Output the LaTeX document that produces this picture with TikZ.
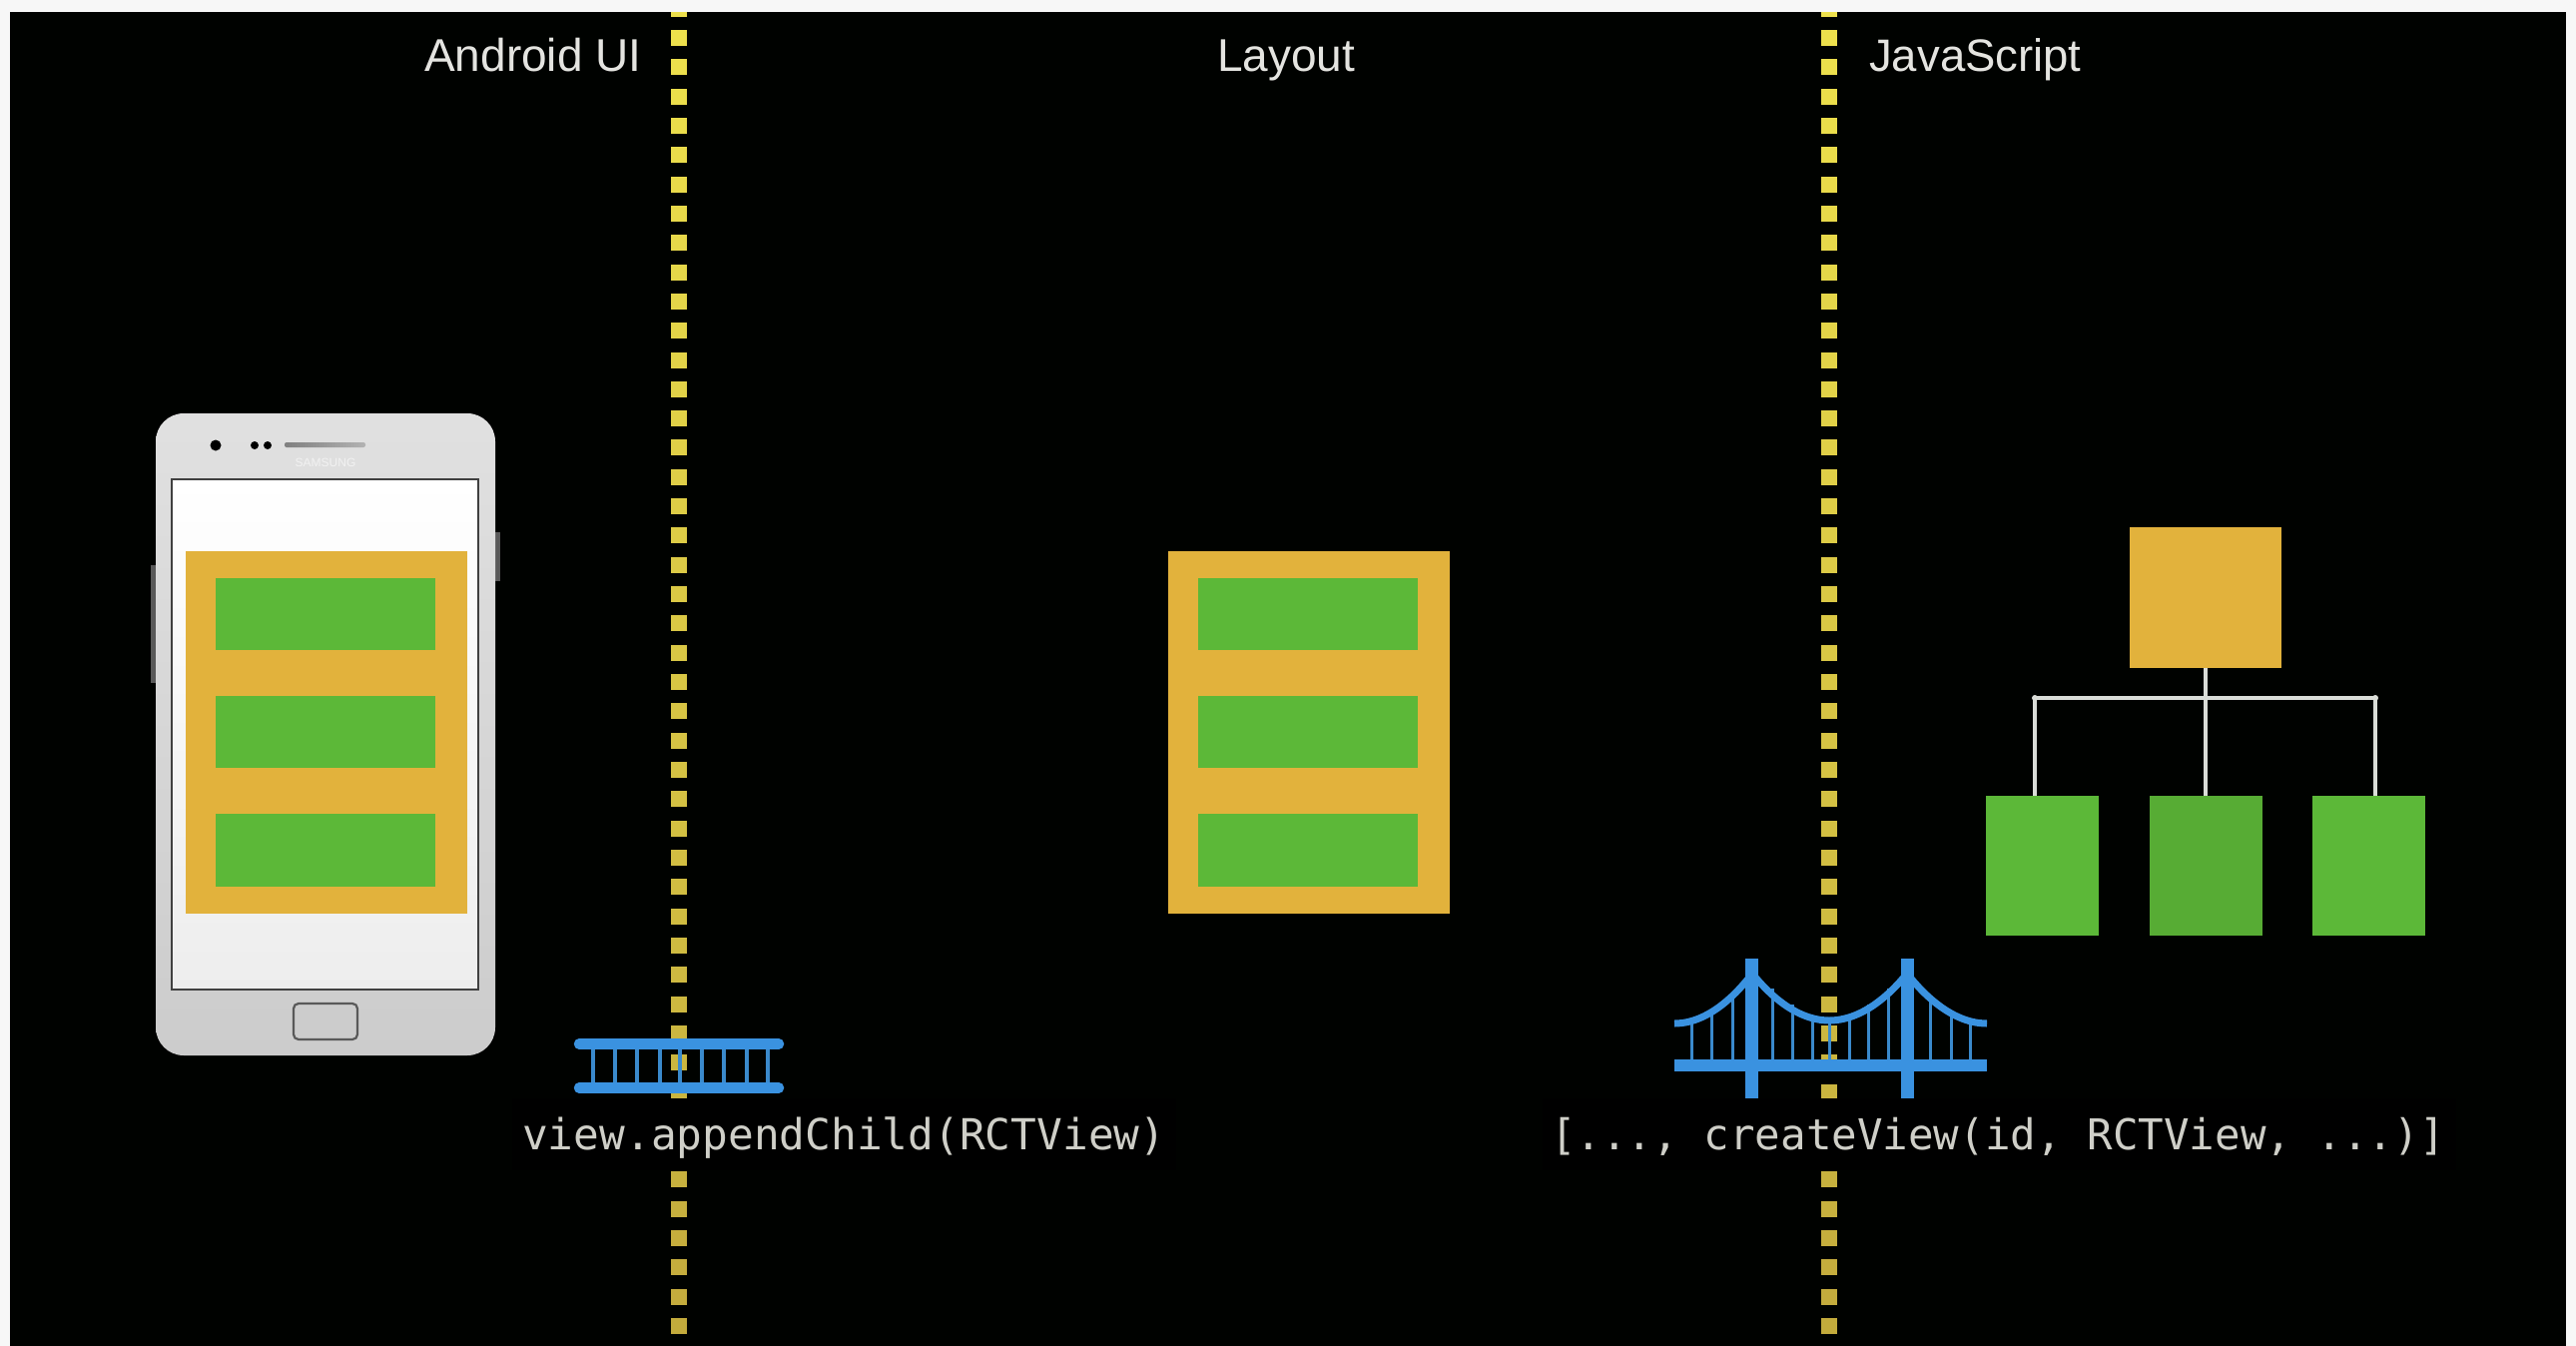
\documentclass[tikz,border=0pt]{standalone}
\usepackage{fontspec}
\setmainfont{Liberation Sans}
\newfontfamily\codefont{DejaVu Sans Mono}
\usetikzlibrary{calc}
\definecolor{slidebg}{HTML}{000200}
\definecolor{boxorange}{HTML}{E2B23C}
\definecolor{boxgreen}{HTML}{5CB838}
\definecolor{boxgreenb}{HTML}{57AC34}
\definecolor{bridgeblue}{HTML}{3A92E0}
\definecolor{hangerblue}{HTML}{3A8ACC}
\definecolor{linegrey}{HTML}{DADDD8}
\definecolor{txtgrey}{HTML}{E4E4E0}
\definecolor{codegrey}{HTML}{CFCFC8}
\definecolor{dashtop}{HTML}{EDE04C}
\definecolor{dashbot}{HTML}{C2AA3C}
\tikzset{
  title/.style={text=txtgrey,font=\fontsize{46}{46}\selectfont,inner sep=0pt,anchor=base west},
  code/.style={text=codegrey,font=\codefont\fontsize{42.8}{43}\selectfont,inner sep=0pt,anchor=base west},
  flat/.style={draw=none,inner sep=0pt,outer sep=0pt,rectangle},
  topbox/.style={flat,fill=boxorange,minimum width=152,minimum height=141},
  leafbox/.style={flat,fill=boxgreen,minimum width=113,minimum height=140},
  wire/.style={draw=linegrey,line width=3.2},
  rail/.style={draw=bridgeblue,line width=10.5,line cap=round},
  strut/.style={draw=hangerblue,line width=3.6},
}
\newcommand{\layoutstack}[1]{%
  \fill[boxorange] (#1,552) rectangle ++(282,363);
  \fill[boxgreen] ($(#1,579)+(29.5,0)$) rectangle ++(220,72);
  \fill[boxgreen] ($(#1,697)+(29.5,0)$) rectangle ++(220,72);
  \fill[boxgreen] ($(#1,815)+(29.5,0)$) rectangle ++(220,73);
}
\begin{document}
\begin{tikzpicture}[x=1pt,y=-1pt]
\useasboundingbox (0,0) rectangle (2580,1348);
\fill[white!97!black] (0,0) rectangle (2580,1348);
\fill[slidebg] (10,12) rectangle (2570,1348);

% dashed separators
\foreach \n in {-1,0,...,45}{
  \pgfmathsetmacro{\yy}{30+29.32*\n}
  \pgfmathsetmacro{\mixv}{100*min(1,max(0,(1340-\yy)/1300))}
  \colorlet{dashcol}{dashtop!\mixv!dashbot}
  \fill[dashcol] (672,{max(12,\yy)}) rectangle ++(16,{16+min(0,\yy-12)});
  \fill[dashcol] (1824,{max(12,\yy)}) rectangle ++(16,{16+min(0,\yy-12)});
}

% phone
\fill[gray!70!black] (151,566) rectangle (158,684);
\fill[gray!70!black] (494,533) rectangle (501,582);
\shade[top color=white!88!black,bottom color=white!80!black,rounded corners=28] (156,414) rectangle (496,1057);
\fill[black] (216,446) circle (5.5);
\fill[black] (255,446) circle (4);
\fill[black] (268,446) circle (4);
\shade[left color=gray,right color=gray!60,rounded corners=2] (285,443) rectangle (366,448);
\node[text=white!95!black,font=\fontsize{12}{12}\selectfont,inner sep=0pt] (brand) at (326,463) {SAMSUNG};
\shade[top color=white,bottom color=white!93!black,draw=black!75,line width=2.5] (172,480) rectangle (479,991);
\draw[black!65,fill=white!80!black,line width=2.2,rounded corners=5] (294,1005) rectangle (358,1041);
\layoutstack{186}

% layout column
\layoutstack{1170}

% view tree
\node[topbox] (root) at (2209,598.5) {};
\node[leafbox] (leafa) at (2045.5,867) {};
\node[leafbox,fill=boxgreenb] (leafb) at (2209,867) {};
\node[leafbox] (leafc) at (2372.5,867) {};
\coordinate (junl) at (2038,699);
\coordinate (junr) at (2379,699);
\draw[wire] (junl) -- (junr);
\draw[wire] (root.south) -- (leafb.north);
\draw[wire] (junl) -- (junl |- leafa.north);
\draw[wire] (junr) -- (junr |- leafc.north);
\fill[linegrey] (junl) circle (3);
\fill[linegrey] (junr) circle (3);

% small bridge
\foreach \x in {594,616,638,661,681,703,725,748,769}{
  \draw[strut] (\x,1045) -- (\x,1090);
}
\draw[rail] (580,1045.5) -- (780,1045.5);
\draw[rail] (580,1089.5) -- (780,1089.5);

% large bridge
\foreach \x/\t in {1694/1020,1714/1012,1735/1000,1775/990,1795/1006,1815/1018,1832/1022,1852/1018,1871/1006,1891/990,1933/1000,1954/1012,1973/1020}{
  \draw[hangerblue,line width=3] (\x,\t) -- (\x,1064);
}
\draw[bridgeblue,line width=7] (1677,1025) parabola bend (1677,1025) (1755,975);
\draw[bridgeblue,line width=7] (1755,975) parabola bend (1832,1022) (1910,975);
\draw[bridgeblue,line width=7] (1990,1025) parabola bend (1990,1025) (1910,975);
\fill[bridgeblue] (1748,960) rectangle (1761,1100);
\fill[bridgeblue] (1904,960) rectangle (1917,1100);
\fill[bridgeblue] (1677,1061) rectangle (1990,1073);

% code bars
\fill[black] (513,1100) rectangle (1178,1172);
\fill[black] (1545,1100) rectangle (2460,1172);

% labels
\node[title] (lblandroid) at (425,72) {Android UI};
\node[title] (lbllayout) at (1219,72) {Layout};
\node[title,font=\fontsize{45.5}{46}\selectfont] (lbljs) at (1872,72) {JavaScript};
\node[code] (codeleft) at (523,1151) {view.appendChild(RCTView)};
\node[code,font=\codefont\fontsize{42.5}{43}\selectfont] (coderight) at (1553,1151) {[..., createView(id, RCTView, ...)]};
\end{tikzpicture}
\end{document}
